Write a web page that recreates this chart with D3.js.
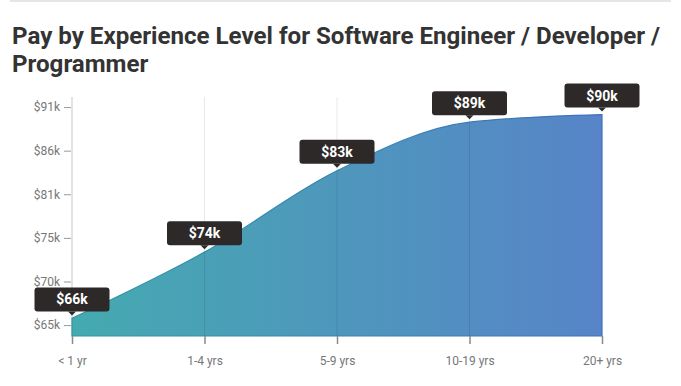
<!DOCTYPE html>
<html>
<head>
<meta charset="utf-8">
<script src="https://cdnjs.cloudflare.com/ajax/libs/d3/7.8.5/d3.min.js"></script>
<style>
  html, body { margin: 0; padding: 0; background: #fff; }
  svg { display: block; font-family: Roboto, "Noto Sans", sans-serif; }
</style>
</head>
<body>
<svg id="chart" width="681" height="386"></svg>
<script>
const titleLines = ["Pay by Experience Level for Software Engineer / Developer /", "Programmer"];
const categories = ["< 1 yr", "1-4 yrs", "5-9 yrs", "10-19 yrs", "20+ yrs"];
const values = [65.8, 73.7, 83.4, 89.2, 90.1];          // $k
const valueLabels = ["$66k", "$74k", "$83k", "$89k", "$90k"];
const yTicks = [65, 70.2, 75.4, 80.6, 85.8, 91];
const yTickLabels = ["$65k", "$70k", "$75k", "$81k", "$86k", "$91k"];
const yDomain = [63.7, 92.2];

const svg = d3.select("#chart");
const mLeft = 72, mRight = 602, mTop = 97, mBottom = 336;

// top rule
svg.append("line").attr("x1", 10).attr("x2", 671).attr("y1", 1).attr("y2", 1)
  .attr("stroke", "#e6e6e6").attr("stroke-width", 2);

// title
const title = svg.append("text").attr("x", 12).attr("fill", "#333")
  .attr("font-weight", 700).attr("font-size", 24);
titleLines.forEach((t, i) => {
  title.append("tspan").attr("x", 12).attr("y", 44 + i * 28).text(t);
});
const t0 = title.select("tspan").node();
const targetW = 648;
const ratio = targetW / t0.getComputedTextLength();
title.selectAll("tspan").each(function() {
  const w = this.getComputedTextLength();
  d3.select(this).attr("textLength", w * ratio).attr("lengthAdjust", "spacingAndGlyphs");
});

const x = d3.scalePoint().domain(categories).range([mLeft, mRight]);
const y = d3.scaleLinear().domain(yDomain).range([mBottom, mTop]);

// gradients
const defs = svg.append("defs");
const g1 = defs.append("linearGradient").attr("id", "fillGrad")
  .attr("gradientUnits", "userSpaceOnUse").attr("x1", mLeft).attr("x2", mRight).attr("y1", 0).attr("y2", 0);
g1.append("stop").attr("offset", "0%").attr("stop-color", "#45aab0");
g1.append("stop").attr("offset", "100%").attr("stop-color", "#5784c8");
const g2 = defs.append("linearGradient").attr("id", "strokeGrad")
  .attr("gradientUnits", "userSpaceOnUse").attr("x1", mLeft).attr("x2", mRight).attr("y1", 0).attr("y2", 0);
g2.append("stop").attr("offset", "0%").attr("stop-color", "#2f98a3");
g2.append("stop").attr("offset", "100%").attr("stop-color", "#3f70c0");

// y axis line
svg.append("line").attr("x1", mLeft).attr("x2", mLeft).attr("y1", mTop).attr("y2", mBottom)
  .attr("stroke", "#e3e3e3").attr("stroke-width", 2);

// area
const data = categories.map((c, i) => ({ c, v: values[i] }));
const area = d3.area().x(d => x(d.c)).y0(y(yDomain[0])).y1(d => y(d.v)).curve(d3.curveMonotoneX);
svg.append("path").datum(data).attr("d", area)
  .attr("fill", "url(#fillGrad)").attr("stroke", "url(#strokeGrad)").attr("stroke-width", 1.2);

// vertical gridlines
svg.append("g").selectAll("line").data(categories.slice(1, 4)).join("line")
  .attr("x1", d => x(d)).attr("x2", d => x(d)).attr("y1", mTop).attr("y2", mBottom)
  .attr("stroke", "rgba(0,0,0,0.09)").attr("stroke-width", 1);

// y axis
const yAxis = d3.axisLeft(y).tickValues(yTicks).tickSize(7).tickPadding(4)
  .tickFormat((d, i) => yTickLabels[i]);
const ya = svg.append("g").attr("transform", `translate(${mLeft - 1},0)`).call(yAxis);
ya.select(".domain").remove();
ya.selectAll(".tick line").attr("stroke", "#999");
ya.selectAll(".tick text").attr("fill", "#777").attr("font-size", 12)
  .attr("font-family", "Roboto, sans-serif");

// x axis
const xAxis = d3.axisBottom(x).tickSize(8).tickPadding(12);
const xa = svg.append("g").attr("transform", `translate(0,${mBottom})`).call(xAxis);
xa.select(".domain").remove();
xa.selectAll(".tick line").attr("stroke", "#8a8a8a").attr("stroke-width", 1.5);
xa.selectAll(".tick text").attr("fill", "#777").attr("font-size", 12)
  .attr("font-family", "Roboto, sans-serif");

// value tooltips
const bw = 75, bh = 24, gap = 7, ph = 4;
const tips = svg.append("g").selectAll("g").data(data).join("g")
  .attr("transform", d => `translate(${x(d.c)},${y(d.v) - gap})`);
tips.append("rect").attr("x", -bw / 2).attr("y", -bh).attr("width", bw).attr("height", bh)
  .attr("rx", 3).attr("fill", "#2c2928");
tips.append("path").attr("d", `M-4,0L4,0L0,${ph}Z`).attr("fill", "#2c2928");
tips.append("text").attr("x", 0).attr("y", -7).attr("text-anchor", "middle")
  .attr("fill", "#fff").attr("font-weight", 700).attr("font-size", 14)
  .text((d, i) => valueLabels[i]);
</script>
</body>
</html>
